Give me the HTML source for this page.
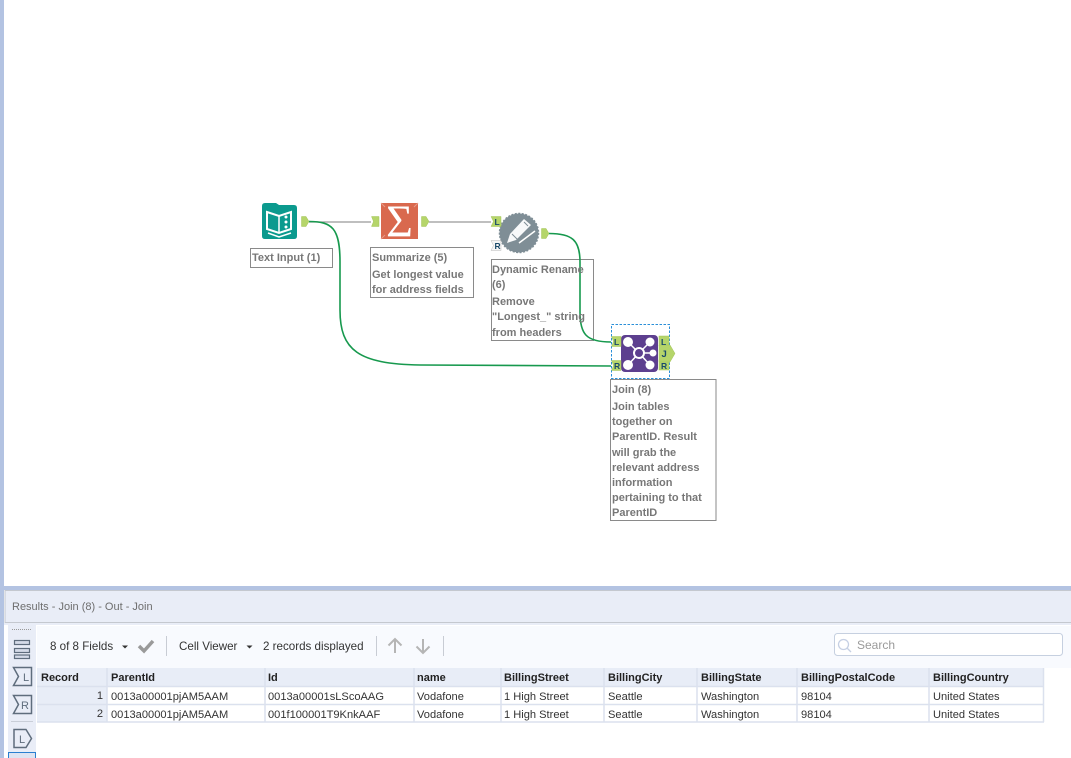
<!DOCTYPE html>
<html>
<head>
<meta charset="utf-8">
<style>
html,body{margin:0;padding:0;background:#fff}
svg{display:block}
text{font-family:"Liberation Sans",Arial,sans-serif}
.a{font-size:11px;fill:#777;font-weight:700;stroke:none}
.h{font-size:11px;fill:#222;font-weight:700}
.c{font-size:11.1px;fill:#333}
.t{font-size:11.6px;fill:#333}
.port{fill:#b5d56a;stroke:#a4c45c;stroke-width:.5}
.pl{font-size:8.5px;font-weight:700;fill:#1a4a6a}
.ab{fill:none;stroke:#8a8a8a;stroke-width:1}
</style>
</head>
<body>
<svg width="1071" height="758" viewBox="0 0 1071 758" xmlns="http://www.w3.org/2000/svg">
<rect width="1071" height="758" fill="#fff"/>
<rect x="0" y="0" width="4" height="758" fill="#b3c3e2"/>

<!-- annotation boxes -->
<rect class="ab" x="250.500" y="248.500" width="82" height="19"/>
<rect class="ab" x="370.500" y="247.500" width="103" height="50"/>
<rect class="ab" x="491.500" y="259.500" width="102" height="81"/>
<rect class="ab" x="610.500" y="379.500" width="105.500" height="141"/>

<!-- connectors -->
<path d="M309 222H371" stroke="#999" stroke-width="1.300" fill="none"/>
<path d="M429 222H491" stroke="#999" stroke-width="1.300" fill="none"/>
<path d="M309 221.500C332 221.500 340 228 340 262V310C340 350 358 364 420 365L611 366" stroke="#17994e" stroke-width="1.600" fill="none"/>
<path d="M549 233.500C572 233.500 580 240 580 262V312C580 334 586 342 611 342" stroke="#17994e" stroke-width="1.600" fill="none"/>

<!-- text input tool -->
<path d="M262 206Q262 203 265 203H276L279 205H294Q297 205 297 208V236Q297 239 294 239H265Q262 239 262 236Z" fill="#0b9a8e"/>
<path d="M267 212L279 216L291 212V229L279 233L267 229Z" fill="none" stroke="#fff" stroke-width="2"/>
<path d="M279 216V233" stroke="#fff" stroke-width="1.500"/>
<circle cx="286" cy="217" r="1.500" fill="#fff"/><circle cx="286" cy="222" r="1.500" fill="#fff"/><circle cx="286" cy="227" r="1.500" fill="#fff"/>
<path d="M268 233L279 237L291 233" fill="none" stroke="#fff" stroke-width="1.500"/>
<path class="port" d="M301.500 216.500H306L309 221.500L306 226.500H301.500Z"/>

<!-- summarize tool -->
<rect x="381" y="203" width="37" height="36" fill="#d9694e"/>
<path d="M381 203L385 207M418 203L414 207M381 239L385 235" stroke="#e79a88" stroke-width="1"/>
<text x="399.500" y="236.500" text-anchor="middle" style="font-size:46px;font-family:'Liberation Serif',serif;fill:#fff">Σ</text>
<path class="port" d="M371.500 216.500H379V226.500H371.500L373.500 221.500Z"/>
<path class="port" d="M421.500 216.500H426L429 221.500L426 226.500H421.500Z"/>

<!-- dynamic rename tool -->
<circle cx="519" cy="233" r="19.500" fill="#7f8e96" stroke="#7f8e96" stroke-width="1.500" stroke-dasharray="2 1.500"/>
<circle cx="519" cy="233" r="18" fill="#7f8e96"/>
<path d="M507 243L510 234L524 219L531 225L516 240Z" fill="#fff" opacity=".95"/>
<path d="M512 234L518 240M524 222L528 226" stroke="#7f8e96" stroke-width="1"/>
<path d="M519 243L535 231" stroke="#fff" stroke-width="1.500"/>
<path class="port" d="M491 216.500H501V226.500H491L493.500 221.500Z"/>
<text class="pl" x="494.500" y="225">L</text>
<path d="M491 240.500H501V250.500H491L493.500 245.500Z" fill="#f5f5f5" stroke="#bbb" stroke-width=".5"/>
<text class="pl" x="494.500" y="249">R</text>
<path class="port" d="M541.500 228.500H546L549 233.500L546 238.500H541.500Z"/>

<!-- join tool -->
<rect x="611.500" y="324.500" width="58" height="54" fill="none" stroke="#2a8fd8" stroke-width="1" stroke-dasharray="2.500 1.500"/>
<rect x="621" y="335" width="37" height="37" rx="4" fill="#5d3f8f"/>
<g stroke="#fff" stroke-width="1.500"><path d="M639 353L628 342M639 353L650 342M639 353L628 365M639 353L650 365M639 353H653"/></g>
<circle cx="628" cy="342" r="5" fill="#fff"/><circle cx="650" cy="342" r="4.500" fill="#fff"/>
<circle cx="628" cy="365" r="5" fill="#fff"/><circle cx="650" cy="365" r="4.500" fill="#fff"/>
<circle cx="653" cy="353" r="3.500" fill="#fff"/>
<circle cx="639" cy="353" r="5" fill="#5d3f8f" stroke="#fff" stroke-width="2"/>
<path class="port" d="M611.500 336.500H621V346.500H611.500L613.500 341.500Z"/>
<text class="pl" x="614" y="345">L</text>
<path class="port" d="M611.500 360.500H621V370.500H611.500L613.500 365.500Z"/>
<text class="pl" x="614" y="369">R</text>
<rect class="port" x="659" y="336" width="10" height="10"/>
<rect class="port" x="659" y="360" width="10" height="10"/>
<path class="port" d="M659 345H670L675 353.500L670 362H659Z"/>
<text class="pl" x="661" y="345">L</text>
<text class="pl" x="661" y="369">R</text>
<text class="pl" x="661.500" y="357" style="font-size:9.500px">J</text>

<!-- annotations text -->
<text class="a" x="252" y="261">Text Input (1)</text>
<text class="a" x="372" y="261">Summarize (5)</text>
<text class="a" x="372" y="278">Get longest value</text>
<text class="a" x="372" y="293">for address fields</text>
<text class="a" x="492" y="273">Dynamic Rename</text>
<text class="a" x="492" y="288">(6)</text>
<text class="a" x="492" y="305">Remove</text>
<text class="a" x="492" y="320">"Longest_" string</text>
<text class="a" x="492" y="336">from headers</text>
<text class="a" x="612" y="393">Join (8)</text>
<text class="a" x="612" y="410">Join tables</text>
<text class="a" x="612" y="425">together on</text>
<text class="a" x="612" y="440">ParentID. Result</text>
<text class="a" x="612" y="456">will grab the</text>
<text class="a" x="612" y="471">relevant address</text>
<text class="a" x="612" y="486">information</text>
<text class="a" x="612" y="501">pertaining to that</text>
<text class="a" x="612" y="516">ParentID</text>

<!-- results panel -->
<rect x="4" y="586" width="1067" height="172" fill="#fff"/>
<rect x="0" y="586" width="1071" height="4" fill="#b3c3e2"/>
<rect x="5" y="590.500" width="1067" height="32" fill="#e9edf7" stroke="#c4c8cf"/>
<text x="12" y="610" style="font-size:11px;fill:#6e6e6e">Results - Join (8) - Out - Join</text>
<rect x="4" y="623" width="1067" height="2" fill="#e9edf7"/>

<!-- left rail -->
<rect x="8" y="625" width="28" height="133" fill="#e9edf7"/>
<path d="M12 629.500H31" stroke="#999" stroke-width="1" stroke-dasharray="1 1"/>
<g fill="#d5dbe8" stroke="#5f6d7d" stroke-width="1.200"><rect x="14.500" y="640.500" width="15" height="4"/><rect x="14.500" y="648.500" width="15" height="4"/><rect x="14.500" y="655" width="15" height="3.500"/></g>
<path d="M13.500 667.500H31.500V685.500H13.500L18.500 676.500Z" fill="#e9edf7" stroke="#5f6d7d" stroke-width="1.500"/>
<text x="23" y="681" style="font-size:11px;fill:#5f6d7d">L</text>
<path d="M13.500 695.500H31.500V713.500H13.500L18.500 704.500Z" fill="#e9edf7" stroke="#5f6d7d" stroke-width="1.500"/>
<text x="21" y="709" style="font-size:11px;fill:#5f6d7d">R</text>
<path d="M11 721.500H33" stroke="#c9ced8"/>
<path d="M14 729.500H26L31.500 738.500L26 747.500H14Z" fill="#e9edf7" stroke="#5f6d7d" stroke-width="1.500"/>
<text x="19" y="743" style="font-size:11px;fill:#5f6d7d">L</text>
<rect x="8.500" y="752.500" width="27" height="8" fill="#dde4f2" stroke="#2a7fd0"/>

<!-- toolbar -->
<rect x="37" y="626" width="1034" height="42" fill="#f8fafe"/>
<text class="t" x="50" y="650">8 of 8 Fields</text>
<path d="M122 645.500H128L125 648.500Z" fill="#333"/>
<path d="M139 646L144 651L153 641" fill="none" stroke="#9a9a9a" stroke-width="3.500"/>
<path d="M166.500 636V656" stroke="#c8ccd4"/>
<text class="t" x="179" y="650">Cell Viewer</text>
<path d="M246.500 645.500H252.500L249.500 648.500Z" fill="#333"/>
<text class="t" x="263" y="650">2 records displayed</text>
<path d="M376.500 636V656M443.500 636V656" stroke="#c8ccd4"/>
<path d="M395 653V639M388.500 645.500L395 639L401.500 645.500" fill="none" stroke="#b5b5b5" stroke-width="2"/>
<path d="M423 639V653M416.500 646.500L423 653L429.500 646.500" fill="none" stroke="#b5b5b5" stroke-width="2"/>
<rect x="834.500" y="633.500" width="228" height="22" rx="3" fill="#fff" stroke="#c6d0e0"/>
<circle cx="843.500" cy="644.500" r="5" fill="none" stroke="#c6d0e4" stroke-width="1.300"/>
<path d="M847 648L851 652" stroke="#c6d0e4" stroke-width="1.300"/>
<text x="857" y="649" style="font-size:12px;fill:#9a9a9a">Search</text>

<!-- table -->
<rect x="37" y="668" width="1007" height="18" fill="#e8edf7"/>
<rect x="37" y="687" width="70" height="35" fill="#e8edf7"/>
<g stroke="#dbe1ee" stroke-width="1.500" fill="none">
<path d="M37 686.500H1044M37 704.500H1044M37 722H1044"/>
<path d="M107 668V722M265 668V722M414 668V722M501 668V722M604 668V722M697 668V722M797 668V722M929 668V722M1043.500 668V722"/>
</g>
<text class="h" x="41" y="681">Record</text>
<text class="h" x="111" y="681">ParentId</text>
<text class="h" x="268" y="681">Id</text>
<text class="h" x="417" y="681">name</text>
<text class="h" x="504" y="681">BillingStreet</text>
<text class="h" x="608" y="681">BillingCity</text>
<text class="h" x="701" y="681">BillingState</text>
<text class="h" x="801" y="681">BillingPostalCode</text>
<text class="h" x="933" y="681">BillingCountry</text>

<text class="c" x="103" y="699" text-anchor="end">1</text>
<text class="c" x="111" y="700">0013a00001pjAM5AAM</text>
<text class="c" x="268" y="700">0013a00001sLScoAAG</text>
<text class="c" x="417" y="700">Vodafone</text>
<text class="c" x="504" y="700">1 High Street</text>
<text class="c" x="608" y="700">Seattle</text>
<text class="c" x="701" y="700">Washington</text>
<text class="c" x="801" y="700">98104</text>
<text class="c" x="933" y="700">United States</text>

<text class="c" x="103" y="717" text-anchor="end">2</text>
<text class="c" x="111" y="718">0013a00001pjAM5AAM</text>
<text class="c" x="268" y="718">001f100001T9KnkAAF</text>
<text class="c" x="417" y="718">Vodafone</text>
<text class="c" x="504" y="718">1 High Street</text>
<text class="c" x="608" y="718">Seattle</text>
<text class="c" x="701" y="718">Washington</text>
<text class="c" x="801" y="718">98104</text>
<text class="c" x="933" y="718">United States</text>
</svg>
</body>
</html>
